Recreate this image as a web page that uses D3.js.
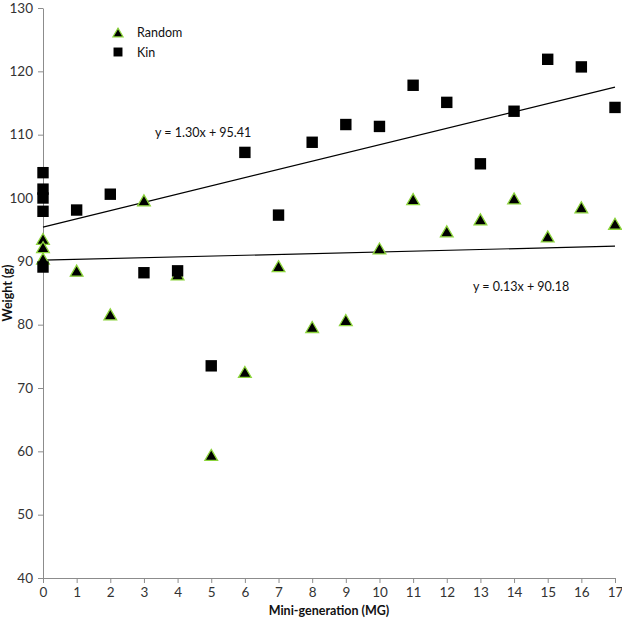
<!DOCTYPE html>
<html><head><meta charset="utf-8">
<script src="https://cdn.jsdelivr.net/npm/d3@7"></script>
<style>body{margin:0;background:#fff;} svg{display:block;font-family:Lato,"Open Sans",sans-serif;}</style>
</head><body><svg id="c" width="622" height="624"></svg>
<script>
const xTicks = [0,1,2,3,4,5,6,7,8,9,10,11,12,13,14,15,16,17];
const yTicks = [40,50,60,70,80,90,100,110,120,130];
const randomX = [0,0,0,1,2,3,4,5,6,7,8,9,10,11,12,13,14,15,16,17];
const randomY = [93.4,92.1,90.3,88.4,81.5,99.5,87.8,59.3,72.4,89.1,79.5,80.6,91.9,99.7,94.6,96.5,99.8,93.8,98.4,95.8];
const kinX = [0,0,0,0,0,1,2,3,4,5,6,7,8,9,10,11,12,13,14,15,16,17];
const kinY = [104.0,101.4,100.0,97.9,89.1,98.1,100.6,88.2,88.5,73.5,107.2,97.3,108.8,111.6,111.3,117.8,115.1,105.4,113.7,121.9,120.7,114.3];
const fitNames = ["Kin","Random"];
const fitSlope = [1.30,0.13];
const fitIntercept = [95.41,90.18];
const fitLabels = ["y = 1.30x + 95.41","y = 0.13x + 90.18"];
const legendNames = ["Random","Kin"];

const svg = d3.select("#c");
const m = {l:43, r:7, t:8, b:46};
const W = 622, H = 624;
const x = d3.scaleLinear().domain([0,17]).range([m.l, W-m.r]);
const y = d3.scaleLinear().domain([40,130]).range([H-m.b, m.t]);
const axisColor = "#8c8c8c";

const gx = svg.append("g").attr("transform",`translate(0,${y(40)})`)
  .call(d3.axisBottom(x).tickValues(xTicks).tickSize(5).tickSizeOuter(0).tickFormat(d3.format("d")));
const gy = svg.append("g").attr("transform",`translate(${x(0)},0)`)
  .call(d3.axisLeft(y).tickValues(yTicks).tickSize(5).tickSizeOuter(0));
[gx,gy].forEach(g=>{
  g.select(".domain").attr("stroke",axisColor);
  g.selectAll(".tick line").attr("stroke",axisColor);
  g.selectAll(".tick text").attr("fill","#333").attr("font-size",13.5).attr("font-family","Lato,'Open Sans',sans-serif");
});
gx.selectAll(".tick text").attr("dy","0.85em");
gy.selectAll(".tick text").attr("x",-10);

// fit lines
fitNames.forEach((n,i)=>{
  const f = v => fitSlope[i]*v + fitIntercept[i];
  svg.append("line").attr("x1",x(0)).attr("y1",y(f(0))).attr("x2",x(17)).attr("y2",y(f(17)))
    .attr("stroke","#000").attr("stroke-width",1.2);
});

const tri = d3.symbol().type(d3.symbolTriangle).size(70);
const sq = d3.symbol().type(d3.symbolSquare).size(130);
svg.append("g").selectAll("path").data(randomX).join("path")
  .attr("d",tri).attr("transform",(d,i)=>`translate(${x(d)},${y(randomY[i])+1})`)
  .attr("fill","#000").attr("stroke","#8cd43c").attr("stroke-width",1.3);
svg.append("g").selectAll("path").data(kinX).join("path")
  .attr("d",sq).attr("transform",(d,i)=>`translate(${x(d)},${y(kinY[i])})`)
  .attr("fill","#000");

// equation labels
const labPos = [[155,137],[473,291]];
fitLabels.forEach((t,i)=>{
  svg.append("text").attr("x",labPos[i][0]).attr("y",labPos[i][1]).attr("font-size",12.5).attr("fill","#111").text(t);
});

// legend
const lg = svg.append("g");
lg.append("path").attr("d",d3.symbol().type(d3.symbolTriangle).size(45)).attr("transform","translate(118,34)")
  .attr("fill","#000").attr("stroke","#8cd43c").attr("stroke-width",1.2);
lg.append("path").attr("d",d3.symbol().type(d3.symbolSquare).size(80)).attr("transform","translate(118,52)").attr("fill","#000");
lg.append("text").attr("x",137).attr("y",37).attr("font-size",12.5).attr("fill","#111").text(legendNames[0]);
lg.append("text").attr("x",137).attr("y",57).attr("font-size",12.5).attr("fill","#111").text(legendNames[1]);

// axis titles
svg.append("text").attr("x",(x(0)+x(17))/2).attr("y",615).attr("text-anchor","middle")
  .attr("font-size",12.5).attr("font-weight","bold").attr("fill","#111").text("Mini-generation (MG)");
svg.append("text").attr("transform",`translate(12,${y(85)}) rotate(-90)`).attr("text-anchor","middle")
  .attr("font-size",12.5).attr("font-weight","bold").attr("fill","#111").text("Weight (g)");
</script></body></html>
